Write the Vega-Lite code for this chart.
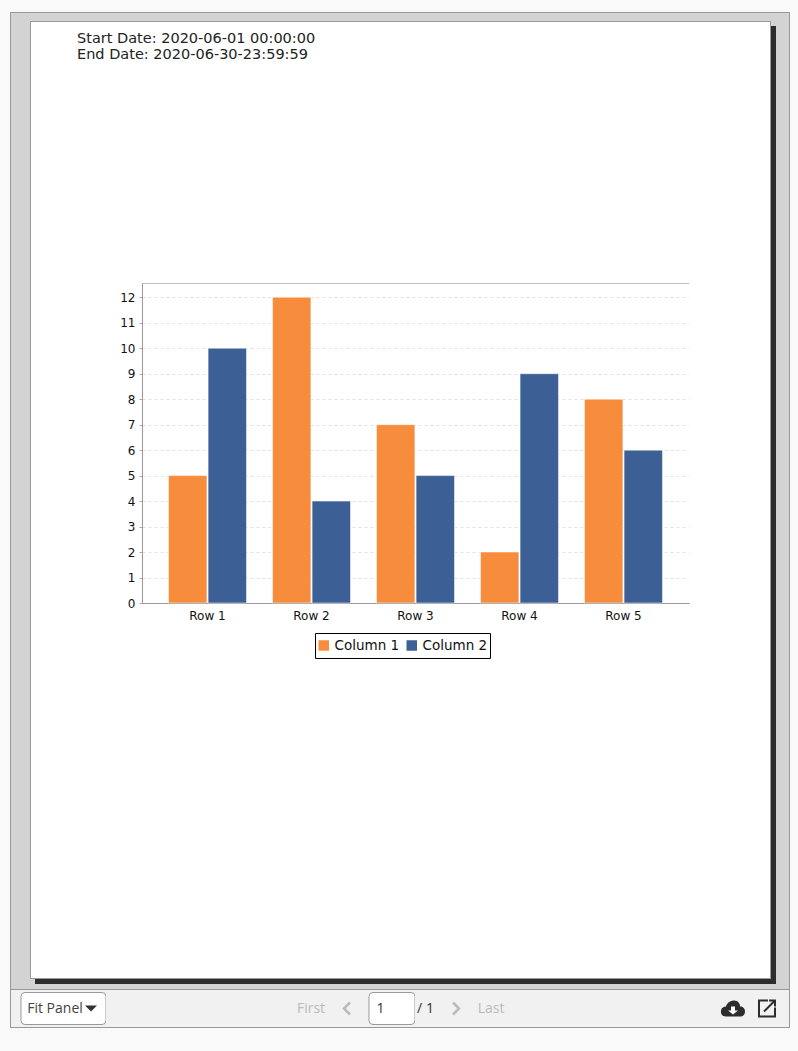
{"$schema":"https://vega.github.io/schema/vega-lite/v6.json","background":"#ffffff","padding":0,"data":{"values":[{"panel":"fill"}]},"config":{"view":{"stroke":null},"concat":{"spacing":0},"font":"DejaVu Sans"},"spacing":0,"vconcat":[
{"width":798,"height":12,"mark":{"type":"rect","color":"#f9f9f9"},"encoding":{}},
{"spacing":0,"hconcat":[
{"width":10,"height":1,"mark":{"type":"rect","color":"#f9f9f9"},"encoding":{}},
{"width":780,"height":1,"mark":{"type":"rect","color":"#999999"},"encoding":{}},
{"width":8,"height":1,"mark":{"type":"rect","color":"#f9f9f9"},"encoding":{}}]},
{"spacing":0,"hconcat":[
{"width":10,"height":976,"mark":{"type":"rect","color":"#f9f9f9"},"encoding":{}},
{"width":1,"height":976,"mark":{"type":"rect","color":"#999999"},"encoding":{}},
{"spacing":0,"vconcat":[
{"width":778,"height":8,"mark":{"type":"rect","color":"#d3d3d3"},"encoding":{}},
{"spacing":0,"hconcat":[
{"width":19,"height":958,"mark":{"type":"rect","color":"#d3d3d3"},"encoding":{}},
{"width":1,"height":958,"mark":{"type":"rect","color":"#999999"},"encoding":{}},
{"spacing":0,"vconcat":[
{"width":739,"height":1,"mark":{"type":"rect","color":"#999999"},"encoding":{}},
{"width":739,"height":260,"view":{"fill":"#ffffff"},"data":{"values":[{"line":"Start Date: 2020-06-01 00:00:00","margin":"left"},{"line":"End Date: 2020-06-30-23:59:59","margin":"left"}]},"mark":{"type":"text","align":"left","baseline":"middle","fontSize":14.5,"color":"#222222","font":"DejaVu Sans"},"encoding":{"text":{"field":"line"},"x":{"field":"margin","type":"nominal","axis":null,"scale":{"type":"point","range":[46,46]}},"y":{"field":"line","type":"nominal","sort":null,"axis":null,"scale":{"type":"point","padding":0,"range":[16.5,33]}}}},
{"spacing":0,"bounds":"flush","hconcat":[
{"width":111,"height":320,"mark":{"type":"rect","color":"#ffffff"},"encoding":{}},
{"width":547,"height":320,"view":{"fill":"#ffffff","stroke":"#c0c0c0"},"data":{"values":[{"row":"Row 1","column":"Column 1","value":5},{"row":"Row 1","column":"Column 2","value":10},{"row":"Row 2","column":"Column 1","value":12},{"row":"Row 2","column":"Column 2","value":4},{"row":"Row 3","column":"Column 1","value":7},{"row":"Row 3","column":"Column 2","value":5},{"row":"Row 4","column":"Column 1","value":2},{"row":"Row 4","column":"Column 2","value":9},{"row":"Row 5","column":"Column 1","value":8},{"row":"Row 5","column":"Column 2","value":6}]},"mark":{"type":"bar","stroke":"#ffffff","strokeOpacity":0.5,"strokeWidth":1},"encoding":{"x":{"field":"row","type":"nominal","title":null,"scale":{"paddingInner":0.25,"paddingOuter":0.255},"axis":{"labelAngle":0,"labelFontSize":12,"labelColor":"#111111","labelPadding":7,"ticks":false,"domainColor":"#999999","grid":false}},"xOffset":{"field":"column","type":"nominal","scale":{"paddingInner":0.03}},"y":{"field":"value","type":"quantitative","title":null,"scale":{"domain":[0,12.56],"nice":false},"axis":{"values":[0,1,2,3,4,5,6,7,8,9,10,11,12],"labelFontSize":12,"labelColor":"#111111","labelPadding":4,"tickSize":3,"tickColor":"#aaaaaa","domainColor":"#999999","grid":true,"gridColor":"#e2e2e2","gridDash":[3,3]}},"color":{"field":"column","type":"nominal","scale":{"domain":["Column 1","Column 2"],"range":["#f88c3d","#3c6096"]},"legend":{"title":null,"orient":"none","direction":"horizontal","legendX":315,"legendY":633,"symbolType":"square","symbolSize":110,"symbolStrokeWidth":0,"labelFontSize":13.5,"labelColor":"#111111","labelOffset":4,"columnPadding":5,"padding":2,"clipHeight":21,"strokeColor":"#000000","fillColor":"#ffffff","cornerRadius":0}}}},
{"width":81,"height":320,"mark":{"type":"rect","color":"#ffffff"},"encoding":{}}]},
{"width":739,"height":356,"mark":{"type":"rect","color":"#ffffff"},"encoding":{}},
{"width":739,"height":1,"mark":{"type":"rect","color":"#999999"},"encoding":{}}]},
{"width":1,"height":958,"mark":{"type":"rect","color":"#999999"},"encoding":{}},
{"spacing":0,"vconcat":[
{"width":5,"height":5,"mark":{"type":"rect","color":"#d3d3d3"},"encoding":{}},
{"width":5,"height":953,"mark":{"type":"rect","color":"#2d2d2d"},"encoding":{}}]},
{"width":13,"height":958,"mark":{"type":"rect","color":"#d3d3d3"},"encoding":{}}]},
{"spacing":0,"hconcat":[
{"width":24,"height":5,"mark":{"type":"rect","color":"#d3d3d3"},"encoding":{}},
{"width":741,"height":5,"mark":{"type":"rect","color":"#2d2d2d"},"encoding":{}},
{"width":13,"height":5,"mark":{"type":"rect","color":"#d3d3d3"},"encoding":{}}]},
{"width":778,"height":5,"mark":{"type":"rect","color":"#d3d3d3"},"encoding":{}}]},
{"width":1,"height":976,"mark":{"type":"rect","color":"#999999"},"encoding":{}},
{"width":8,"height":976,"mark":{"type":"rect","color":"#f9f9f9"},"encoding":{}}]},
{"spacing":0,"hconcat":[
{"width":10,"height":39,"mark":{"type":"rect","color":"#f9f9f9"},"encoding":{}},
{"width":1,"height":39,"mark":{"type":"rect","color":"#999999"},"encoding":{}},
{"spacing":0,"vconcat":[
{"width":778,"height":1,"mark":{"type":"rect","color":"#999999"},"encoding":{}},
{"spacing":0,"bounds":"flush","hconcat":[
{"width":10,"height":37,"mark":{"type":"rect","color":"#f1f1f1"},"encoding":{}},
{"width":85,"height":37,"view":{"fill":"#f1f1f1"},"data":{"values":[{"label":"Fit Panel"}]},"layer":[
{"mark":{"type":"point","shape":"M-38.5,-16H38.5Q42.5,-16 42.5,-12V12Q42.5,16 38.5,16H-38.5Q-42.5,16 -42.5,12V-12Q-42.5,-16 -38.5,-16Z","size":4,"filled":true,"fill":"#ffffff","stroke":"#999999","strokeWidth":1,"opacity":1},"encoding":{}},
{"mark":{"type":"point","shape":"M21.5,-3H33.5L27.5,3Z","size":4,"filled":true,"fill":"#333333","opacity":1},"encoding":{}},
{"mark":{"type":"text","font":"Open Sans","fontSize":14,"color":"#444444","dx":-8.5},"encoding":{"text":{"field":"label"}}}]},
{"width":185,"height":37,"mark":{"type":"rect","color":"#f1f1f1"},"encoding":{}},
{"width":40,"height":37,"view":{"fill":"#f1f1f1"},"data":{"values":[{"label":"First"}]},"mark":{"type":"text","font":"Open Sans","fontSize":14,"color":"#bbbbbb"},"encoding":{"text":{"field":"label"}}},
{"width":32,"height":37,"view":{"fill":"#f1f1f1"},"mark":{"type":"point","shape":"M3,-6L-3,0L3,6","size":4,"filled":false,"stroke":"#bbbbbb","strokeWidth":2.5,"opacity":1},"encoding":{}},
{"width":6,"height":37,"mark":{"type":"rect","color":"#f1f1f1"},"encoding":{}},
{"width":46,"height":37,"view":{"fill":"#f1f1f1"},"data":{"values":[{"label":"1"}]},"layer":[
{"mark":{"type":"point","shape":"M-19,-16H19Q23,-16 23,-12V12Q23,16 19,16H-19Q-23,16 -23,12V-12Q-23,-16 -19,-16Z","size":4,"filled":true,"fill":"#ffffff","stroke":"#999999","strokeWidth":1,"opacity":1},"encoding":{}},
{"mark":{"type":"text","font":"Open Sans","fontSize":14,"color":"#333333","dx":-11.5},"encoding":{"text":{"field":"label"}}}]},
{"width":21,"height":37,"view":{"fill":"#f1f1f1"},"data":{"values":[{"label":"/ 1"}]},"mark":{"type":"text","font":"Open Sans","fontSize":14,"color":"#333333"},"encoding":{"text":{"field":"label"}}},
{"width":5,"height":37,"mark":{"type":"rect","color":"#f1f1f1"},"encoding":{}},
{"width":30,"height":37,"view":{"fill":"#f1f1f1"},"mark":{"type":"point","shape":"M-3,-6L3,0L-3,6","size":4,"filled":false,"stroke":"#bbbbbb","strokeWidth":2.5,"opacity":1},"encoding":{}},
{"width":40,"height":37,"view":{"fill":"#f1f1f1"},"data":{"values":[{"label":"Last"}]},"mark":{"type":"text","font":"Open Sans","fontSize":14,"color":"#bbbbbb"},"encoding":{"text":{"field":"label"}}},
{"width":205,"height":37,"mark":{"type":"rect","color":"#f1f1f1"},"encoding":{}},
{"width":34,"height":37,"view":{"fill":"#f1f1f1"},"layer":[
{"mark":{"type":"point","shape":"M-7,8C-11,8 -12.5,5 -12,2C-11.5,-1 -9,-2 -7,-2C-6,-6 -2,-8 1,-8C5,-8 7,-5 7,-2C10,-2 12,0 12,3C12,6 10,8 7,8Z","size":4,"filled":true,"fill":"#2d2d2d","opacity":1},"encoding":{}},
{"mark":{"type":"point","shape":"M-2,-2H2V2H5L0,6L-5,2H-2Z","size":4,"filled":true,"fill":"#ffffff","opacity":1},"encoding":{}}]},
{"width":34,"height":37,"view":{"fill":"#f1f1f1"},"mark":{"type":"point","shape":"M1,-8H-8V8H8V-1M-3,3L8,-8M2,-8H8V-2","size":4,"filled":false,"stroke":"#2d2d2d","strokeWidth":2,"opacity":1},"encoding":{}},
{"width":5,"height":37,"mark":{"type":"rect","color":"#f1f1f1"},"encoding":{}}]},
{"width":778,"height":1,"mark":{"type":"rect","color":"#999999"},"encoding":{}}]},
{"width":1,"height":39,"mark":{"type":"rect","color":"#999999"},"encoding":{}},
{"width":8,"height":39,"mark":{"type":"rect","color":"#f9f9f9"},"encoding":{}}]},
{"width":798,"height":23,"mark":{"type":"rect","color":"#f9f9f9"},"encoding":{}}]}
